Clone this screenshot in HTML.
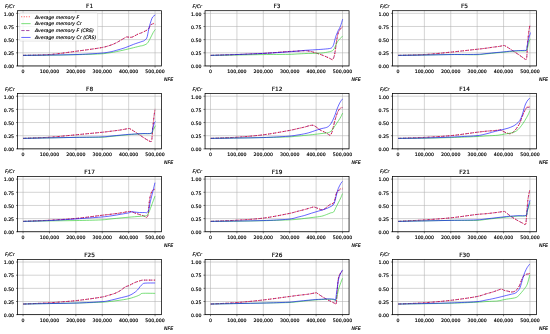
<!DOCTYPE html>
<html><head><meta charset="utf-8"><style>html,body{margin:0;padding:0;background:#fff;}svg{display:block;}</style></head><body>
<svg width="550" height="334" viewBox="0 0 550 334">
<rect width="550" height="334" fill="#fff"/>
<g stroke="#b0b0b0" stroke-width="0.55"><line x1="23.06" y1="10.7" x2="23.06" y2="65.95"/><line x1="49.46" y1="10.7" x2="49.46" y2="65.95"/><line x1="75.86" y1="10.7" x2="75.86" y2="65.95"/><line x1="102.26" y1="10.7" x2="102.26" y2="65.95"/><line x1="128.66" y1="10.7" x2="128.66" y2="65.95"/><line x1="155.05" y1="10.7" x2="155.05" y2="65.95"/><line x1="17.6" y1="65.95" x2="161.6" y2="65.95"/><line x1="17.6" y1="52.8" x2="161.6" y2="52.8"/><line x1="17.6" y1="39.64" x2="161.6" y2="39.64"/><line x1="17.6" y1="26.49" x2="161.6" y2="26.49"/><line x1="17.6" y1="13.33" x2="161.6" y2="13.33"/></g>
<path d="M23.06 55.37C27.5 55.23 40.92 55.23 49.73 54.55C58.54 53.87 67.54 52.39 75.92 51.28C84.3 50.16 94.31 48.86 100 47.87C105.69 46.89 107.26 46.25 110.06 45.36C112.85 44.47 114.25 43.8 116.76 42.51C119.27 41.23 123.46 38.57 125.14 37.65C126.81 36.73 125.84 37.04 126.81 36.98C127.79 36.93 129.89 37.4 131 37.32C132.12 37.23 132.26 37.07 133.52 36.48C134.77 35.89 137.34 34.36 138.55 33.8C139.75 33.24 139.8 33.49 140.72 33.13C141.65 32.76 142.99 32.15 144.08 31.62C145.17 31.09 146.45 30.5 147.26 29.94C148.07 29.38 148.49 28.88 148.94 28.27C149.38 27.65 149.49 26.93 149.94 26.26C150.39 25.59 151 24.64 151.62 24.25C152.23 23.85 153.01 23.91 153.63 23.91C154.24 23.91 155.02 24.19 155.3 24.25" fill="none" stroke="#800080" stroke-width="0.7" stroke-dasharray="3.3 1.5" stroke-linejoin="round"/>
<path d="M23.06 55.37C27.5 55.23 40.92 55.23 49.73 54.55C58.54 53.87 67.54 52.39 75.92 51.28C84.3 50.16 94.31 48.86 100 47.87C105.69 46.89 107.26 46.25 110.06 45.36C112.85 44.47 114.25 43.8 116.76 42.51C119.27 41.23 123.46 38.57 125.14 37.65C126.81 36.73 125.84 37.04 126.81 36.98C127.79 36.93 129.89 37.4 131 37.32C132.12 37.23 132.26 37.07 133.52 36.48C134.77 35.89 137.34 34.36 138.55 33.8C139.75 33.24 139.8 33.49 140.72 33.13C141.65 32.76 142.99 32.15 144.08 31.62C145.17 31.09 146.45 30.5 147.26 29.94C148.07 29.38 148.49 28.88 148.94 28.27C149.38 27.65 149.49 26.95 149.94 26.26C150.39 25.56 151 24.55 151.62 24.08C152.23 23.6 153.01 23.46 153.63 23.41C154.24 23.35 155.02 23.69 155.3 23.74" fill="none" stroke="#ff0000" stroke-width="0.8" stroke-dasharray="0.9 1.6" stroke-linejoin="round"/>
<path d="M23.06 55.37C27.5 55.34 40.92 55.31 49.73 55.2C58.54 55.1 67.54 54.93 75.92 54.71C84.3 54.5 94.31 54.24 100 53.91C105.69 53.58 107.26 53.13 110.06 52.74C112.85 52.34 114.25 52.06 116.76 51.56C119.27 51.06 122.35 50.36 125.14 49.72C127.93 49.08 131 48.32 133.52 47.71C136.03 47.09 138.66 46.39 140.22 46.03C141.79 45.67 141.73 45.98 142.9 45.53C144.08 45.08 146 44.61 147.26 43.35C148.52 42.09 149.47 39.77 150.44 37.99C151.42 36.2 152.32 34.05 153.13 32.62C153.94 31.2 154.94 29.97 155.3 29.44" fill="none" stroke="#32cd32" stroke-width="0.65" stroke-linejoin="round"/>
<path d="M23.06 55.37C27.5 55.31 40.92 55.18 49.73 55.04C58.54 54.9 67.54 54.85 75.92 54.55C84.3 54.25 94.31 53.68 100 53.24C105.69 52.8 107.26 52.4 110.06 51.9C112.85 51.39 114.25 50.92 116.76 50.22C119.27 49.52 122.35 48.68 125.14 47.71C127.93 46.73 130.72 45.39 133.52 44.36C136.31 43.32 140.14 42.12 141.9 41.51C143.66 40.89 143.27 41.26 144.08 40.67C144.89 40.08 146.06 39.5 146.76 37.99C147.46 36.48 147.82 33.57 148.27 31.62C148.71 29.66 148.96 28.07 149.44 26.26C149.91 24.44 150.58 22.26 151.11 20.73C151.65 19.19 151.92 18.02 152.62 17.04C153.32 16.06 154.86 15.22 155.3 14.86" fill="none" stroke="#0000ff" stroke-width="0.6" stroke-linejoin="round"/>
<rect x="17.6" y="10.7" width="144" height="55.25" fill="none" stroke="#000" stroke-width="0.75"/>
<path d="M23.06 65.95v1.6M49.46 65.95v1.6M75.86 65.95v1.6M102.26 65.95v1.6M128.66 65.95v1.6M155.05 65.95v1.6M17.6 65.95h-1.6M17.6 52.8h-1.6M17.6 39.64h-1.6M17.6 26.49h-1.6M17.6 13.33h-1.6" stroke="#000" stroke-width="0.5" fill="none"/>
<g font-family="DejaVu Sans, sans-serif" font-size="4.7" fill="#000" stroke="#000" stroke-width="0.15"><text x="23.06" y="72.95" text-anchor="middle">0</text><text x="49.46" y="72.95" text-anchor="middle">100,000</text><text x="75.86" y="72.95" text-anchor="middle">200,000</text><text x="102.26" y="72.95" text-anchor="middle">300,000</text><text x="128.66" y="72.95" text-anchor="middle">400,000</text><text x="155.05" y="72.95" text-anchor="middle">500,000</text><text x="14.1" y="68.25" text-anchor="end">0.00</text><text x="14.1" y="55.1" text-anchor="end">0.25</text><text x="14.1" y="41.94" text-anchor="end">0.50</text><text x="14.1" y="28.79" text-anchor="end">0.75</text><text x="14.1" y="15.63" text-anchor="end">1.00</text></g>
<text x="89.6" y="7.9" text-anchor="middle" font-family="DejaVu Sans, sans-serif" font-size="5.8" stroke="#000" stroke-width="0.15">F1</text>
<text x="5.1" y="7.6" font-family="DejaVu Sans, sans-serif" font-style="italic" font-size="4.7" stroke="#000" stroke-width="0.15">F/Cr</text>
<text x="164" y="81.25" font-family="DejaVu Sans, sans-serif" font-style="italic" font-size="4.7" stroke="#000" stroke-width="0.15">NFE</text>
<rect x="19.6" y="13.0" width="78" height="28.1" rx="0.9" fill="#fff" fill-opacity="0.8" stroke="#cccccc" stroke-width="0.45"/>
<line x1="21.3" y1="16.75" x2="30.6" y2="16.75" stroke="#ff0000" stroke-width="0.8" stroke-dasharray="0.9 1.6"/>
<text x="34.9" y="18.5" font-family="DejaVu Sans, sans-serif" font-style="italic" font-size="4.65" stroke="#000" stroke-width="0.15">Average memory F</text>
<line x1="21.3" y1="23.65" x2="30.6" y2="23.65" stroke="#32cd32" stroke-width="0.65"/>
<text x="34.9" y="25.4" font-family="DejaVu Sans, sans-serif" font-style="italic" font-size="4.65" stroke="#000" stroke-width="0.15">Average memory Cr</text>
<line x1="21.3" y1="30.55" x2="30.6" y2="30.55" stroke="#800080" stroke-width="0.7" stroke-dasharray="3.3 1.5"/>
<text x="34.9" y="32.3" font-family="DejaVu Sans, sans-serif" font-style="italic" font-size="4.65" stroke="#000" stroke-width="0.15">Average memory F (CRS)</text>
<line x1="21.3" y1="37.45" x2="30.6" y2="37.45" stroke="#0000ff" stroke-width="0.6"/>
<text x="34.9" y="39.2" font-family="DejaVu Sans, sans-serif" font-style="italic" font-size="4.65" stroke="#000" stroke-width="0.15">Average memory Cr (CRS)</text>
<g stroke="#b0b0b0" stroke-width="0.55"><line x1="210.51" y1="10.7" x2="210.51" y2="65.95"/><line x1="236.91" y1="10.7" x2="236.91" y2="65.95"/><line x1="263.31" y1="10.7" x2="263.31" y2="65.95"/><line x1="289.71" y1="10.7" x2="289.71" y2="65.95"/><line x1="316.11" y1="10.7" x2="316.11" y2="65.95"/><line x1="342.5" y1="10.7" x2="342.5" y2="65.95"/><line x1="205.05" y1="65.95" x2="349.05" y2="65.95"/><line x1="205.05" y1="52.8" x2="349.05" y2="52.8"/><line x1="205.05" y1="39.64" x2="349.05" y2="39.64"/><line x1="205.05" y1="26.49" x2="349.05" y2="26.49"/><line x1="205.05" y1="13.33" x2="349.05" y2="13.33"/></g>
<path d="M210.73 55.37C215.09 55.23 228.13 54.88 236.91 54.55C245.7 54.22 254.91 53.9 263.43 53.4C271.94 52.91 282.23 51.95 288 51.56C293.77 51.17 295.26 51.2 298.06 51.06C300.85 50.92 302.78 50.7 304.76 50.72C306.74 50.75 308.14 50.86 309.95 51.23C311.77 51.59 313.84 52.34 315.65 52.9C317.47 53.46 319.09 53.94 320.85 54.58C322.61 55.22 324.59 56.06 326.21 56.76C327.83 57.46 329.51 58.29 330.57 58.77C331.63 59.24 331.96 60.08 332.58 59.61C333.19 59.13 333.78 57.6 334.25 55.92C334.73 54.24 335.06 51.87 335.43 49.55C335.79 47.23 336.13 44.13 336.43 42.01C336.74 39.89 336.96 38.35 337.27 36.81C337.58 35.28 337.83 33.99 338.28 32.79C338.72 31.59 339.31 30.53 339.95 29.61C340.59 28.69 341.63 27.62 342.13 27.26C342.63 26.9 342.83 27.4 342.97 27.43" fill="none" stroke="#800080" stroke-width="0.7" stroke-dasharray="3.3 1.5" stroke-linejoin="round"/>
<path d="M210.73 55.37C215.09 55.23 228.13 54.88 236.91 54.55C245.7 54.22 254.91 53.9 263.43 53.4C271.94 52.91 282.23 51.95 288 51.56C293.77 51.17 295.26 51.2 298.06 51.06C300.85 50.92 302.78 50.7 304.76 50.72C306.74 50.75 308.14 50.86 309.95 51.23C311.77 51.59 313.84 52.34 315.65 52.9C317.47 53.46 319.09 53.94 320.85 54.58C322.61 55.22 324.59 56.06 326.21 56.76C327.83 57.46 329.51 58.29 330.57 58.77C331.63 59.24 331.96 60.08 332.58 59.61C333.19 59.13 333.78 57.6 334.25 55.92C334.73 54.24 335.06 51.87 335.43 49.55C335.79 47.23 336.13 44.13 336.43 42.01C336.74 39.89 336.96 38.35 337.27 36.81C337.58 35.28 337.83 34.02 338.28 32.79C338.72 31.56 339.31 30.42 339.95 29.44C340.59 28.46 341.63 27.37 342.13 26.93C342.63 26.48 342.83 26.79 342.97 26.76" fill="none" stroke="#ff0000" stroke-width="0.8" stroke-dasharray="0.9 1.6" stroke-linejoin="round"/>
<path d="M210.73 55.37C215.09 55.31 228.13 55.18 236.91 55.04C245.7 54.9 254.91 54.65 263.43 54.55C271.94 54.44 282.23 54.52 288 54.41C293.77 54.3 295.26 54.05 298.06 53.91C300.85 53.77 302.78 53.66 304.76 53.57C306.74 53.49 307.27 53.49 309.95 53.41C312.64 53.32 317.61 53.35 320.85 53.07C324.09 52.79 327.33 52.23 329.39 51.73C331.46 51.23 332.24 51 333.25 50.05C334.25 49.1 334.81 47.26 335.43 46.03C336.04 44.8 336.46 43.57 336.94 42.68C337.41 41.79 337.83 41.26 338.28 40.67C338.72 40.08 338.89 39.94 339.62 39.16C340.34 38.38 342.13 36.51 342.63 35.98" fill="none" stroke="#32cd32" stroke-width="0.65" stroke-linejoin="round"/>
<path d="M210.73 55.37C215.09 55.23 228.13 54.88 236.91 54.55C245.7 54.22 254.91 53.85 263.43 53.4C271.94 52.96 282.23 52.29 288 51.9C293.77 51.51 295.26 51.31 298.06 51.06C300.85 50.81 302.78 50.56 304.76 50.39C306.74 50.22 307.27 50.22 309.95 50.05C312.64 49.89 317.61 49.63 320.85 49.38C324.09 49.13 327.52 48.88 329.39 48.55C331.27 48.21 331.35 48.1 332.08 47.37C332.8 46.65 333.19 45.81 333.75 44.19C334.31 42.57 334.95 39.3 335.43 37.65C335.9 36 336.13 35.5 336.6 34.3C337.08 33.1 337.63 31.79 338.28 30.45C338.92 29.11 339.73 28.13 340.46 26.26C341.18 24.38 342.27 20.39 342.63 19.22" fill="none" stroke="#0000ff" stroke-width="0.6" stroke-linejoin="round"/>
<rect x="205.05" y="10.7" width="144" height="55.25" fill="none" stroke="#000" stroke-width="0.75"/>
<path d="M210.51 65.95v1.6M236.91 65.95v1.6M263.31 65.95v1.6M289.71 65.95v1.6M316.11 65.95v1.6M342.5 65.95v1.6M205.05 65.95h-1.6M205.05 52.8h-1.6M205.05 39.64h-1.6M205.05 26.49h-1.6M205.05 13.33h-1.6" stroke="#000" stroke-width="0.5" fill="none"/>
<g font-family="DejaVu Sans, sans-serif" font-size="4.7" fill="#000" stroke="#000" stroke-width="0.15"><text x="210.51" y="72.95" text-anchor="middle">0</text><text x="236.91" y="72.95" text-anchor="middle">100,000</text><text x="263.31" y="72.95" text-anchor="middle">200,000</text><text x="289.71" y="72.95" text-anchor="middle">300,000</text><text x="316.11" y="72.95" text-anchor="middle">400,000</text><text x="342.5" y="72.95" text-anchor="middle">500,000</text><text x="201.55" y="68.25" text-anchor="end">0.00</text><text x="201.55" y="55.1" text-anchor="end">0.25</text><text x="201.55" y="41.94" text-anchor="end">0.50</text><text x="201.55" y="28.79" text-anchor="end">0.75</text><text x="201.55" y="15.63" text-anchor="end">1.00</text></g>
<text x="277.05" y="7.9" text-anchor="middle" font-family="DejaVu Sans, sans-serif" font-size="5.8" stroke="#000" stroke-width="0.15">F3</text>
<text x="192.55" y="7.6" font-family="DejaVu Sans, sans-serif" font-style="italic" font-size="4.7" stroke="#000" stroke-width="0.15">F/Cr</text>
<text x="351.45" y="81.25" font-family="DejaVu Sans, sans-serif" font-style="italic" font-size="4.7" stroke="#000" stroke-width="0.15">NFE</text>
<g stroke="#b0b0b0" stroke-width="0.55"><line x1="397.96" y1="10.7" x2="397.96" y2="65.95"/><line x1="424.36" y1="10.7" x2="424.36" y2="65.95"/><line x1="450.76" y1="10.7" x2="450.76" y2="65.95"/><line x1="477.16" y1="10.7" x2="477.16" y2="65.95"/><line x1="503.56" y1="10.7" x2="503.56" y2="65.95"/><line x1="529.95" y1="10.7" x2="529.95" y2="65.95"/><line x1="392.5" y1="65.95" x2="536.5" y2="65.95"/><line x1="392.5" y1="52.8" x2="536.5" y2="52.8"/><line x1="392.5" y1="39.64" x2="536.5" y2="39.64"/><line x1="392.5" y1="26.49" x2="536.5" y2="26.49"/><line x1="392.5" y1="13.33" x2="536.5" y2="13.33"/></g>
<path d="M398.22 55.37C402.64 55.23 415.9 55.1 424.73 54.55C433.57 54 442.7 52.96 451.25 52.09C459.79 51.23 470.2 50.03 476 49.38C481.8 48.74 483.26 48.57 486.06 48.21C488.85 47.85 490.52 47.51 492.76 47.2C494.99 46.9 497.65 46.65 499.46 46.37C501.28 46.09 502.67 45.58 503.65 45.53C504.63 45.47 504.35 45.53 505.33 46.03C506.31 46.53 507.98 47.57 509.52 48.55C511.05 49.52 512.87 50.78 514.55 51.9C516.22 53.01 518.04 54.19 519.57 55.25C521.11 56.31 522.7 57.57 523.76 58.27C524.82 58.96 525.44 59.66 525.94 59.44C526.44 59.22 526.5 59.58 526.78 56.92C527.06 54.27 527.28 47.71 527.62 43.52C527.95 39.33 528.4 34.8 528.79 31.79C529.18 28.77 529.77 26.48 529.96 25.42" fill="none" stroke="#800080" stroke-width="0.7" stroke-dasharray="3.3 1.5" stroke-linejoin="round"/>
<path d="M398.22 55.37C402.64 55.23 415.9 55.1 424.73 54.55C433.57 54 442.7 52.96 451.25 52.09C459.79 51.23 470.2 50.03 476 49.38C481.8 48.74 483.26 48.57 486.06 48.21C488.85 47.85 490.52 47.51 492.76 47.2C494.99 46.9 497.65 46.65 499.46 46.37C501.28 46.09 502.67 45.58 503.65 45.53C504.63 45.47 504.35 45.53 505.33 46.03C506.31 46.53 507.98 47.57 509.52 48.55C511.05 49.52 512.87 50.78 514.55 51.9C516.22 53.01 518.04 54.19 519.57 55.25C521.11 56.31 522.7 57.57 523.76 58.27C524.82 58.96 525.44 59.66 525.94 59.44C526.44 59.22 526.5 59.58 526.78 56.92C527.06 54.27 527.28 47.71 527.62 43.52C527.95 39.33 528.4 34.91 528.79 31.79C529.18 28.66 529.77 25.92 529.96 24.75" fill="none" stroke="#ff0000" stroke-width="0.8" stroke-dasharray="0.9 1.6" stroke-linejoin="round"/>
<path d="M398.22 55.37C402.64 55.31 415.9 55.18 424.73 55.04C433.57 54.9 442.7 54.6 451.25 54.55C459.79 54.5 470.2 54.85 476 54.75C481.8 54.64 482.7 54.22 486.06 53.91C489.41 53.6 493.18 53.18 496.11 52.9C499.04 52.62 501.42 52.46 503.65 52.23C505.89 52.01 507.14 51.79 509.52 51.56C511.89 51.34 515.1 51.06 517.9 50.89C520.69 50.72 524.6 51.37 526.28 50.56C527.95 49.75 527.39 47.76 527.95 46.03C528.51 44.3 529.21 41.28 529.63 40.17C530.05 39.05 530.33 39.47 530.47 39.33" fill="none" stroke="#32cd32" stroke-width="0.65" stroke-linejoin="round"/>
<path d="M398.22 55.37C402.64 55.31 415.9 55.18 424.73 55.04C433.57 54.9 442.7 54.65 451.25 54.55C459.79 54.44 470.2 54.57 476 54.41C481.8 54.25 482.7 53.88 486.06 53.57C489.41 53.27 493.18 52.85 496.11 52.57C499.04 52.29 501.42 52.12 503.65 51.9C505.89 51.67 507.42 51.42 509.52 51.23C511.61 51.03 513.71 50.86 516.22 50.72C518.74 50.58 522.92 50.47 524.6 50.39C526.28 50.31 525.86 50.95 526.28 50.22C526.7 49.5 526.7 47.99 527.11 46.03C527.53 44.08 528.23 40.72 528.79 38.49C529.35 36.26 530.19 33.6 530.47 32.62" fill="none" stroke="#0000ff" stroke-width="0.6" stroke-linejoin="round"/>
<rect x="392.5" y="10.7" width="144" height="55.25" fill="none" stroke="#000" stroke-width="0.75"/>
<path d="M397.96 65.95v1.6M424.36 65.95v1.6M450.76 65.95v1.6M477.16 65.95v1.6M503.56 65.95v1.6M529.95 65.95v1.6M392.5 65.95h-1.6M392.5 52.8h-1.6M392.5 39.64h-1.6M392.5 26.49h-1.6M392.5 13.33h-1.6" stroke="#000" stroke-width="0.5" fill="none"/>
<g font-family="DejaVu Sans, sans-serif" font-size="4.7" fill="#000" stroke="#000" stroke-width="0.15"><text x="397.96" y="72.95" text-anchor="middle">0</text><text x="424.36" y="72.95" text-anchor="middle">100,000</text><text x="450.76" y="72.95" text-anchor="middle">200,000</text><text x="477.16" y="72.95" text-anchor="middle">300,000</text><text x="503.56" y="72.95" text-anchor="middle">400,000</text><text x="529.95" y="72.95" text-anchor="middle">500,000</text><text x="389" y="68.25" text-anchor="end">0.00</text><text x="389" y="55.1" text-anchor="end">0.25</text><text x="389" y="41.94" text-anchor="end">0.50</text><text x="389" y="28.79" text-anchor="end">0.75</text><text x="389" y="15.63" text-anchor="end">1.00</text></g>
<text x="464.5" y="7.9" text-anchor="middle" font-family="DejaVu Sans, sans-serif" font-size="5.8" stroke="#000" stroke-width="0.15">F5</text>
<text x="380" y="7.6" font-family="DejaVu Sans, sans-serif" font-style="italic" font-size="4.7" stroke="#000" stroke-width="0.15">F/Cr</text>
<text x="538.9" y="81.25" font-family="DejaVu Sans, sans-serif" font-style="italic" font-size="4.7" stroke="#000" stroke-width="0.15">NFE</text>
<g stroke="#b0b0b0" stroke-width="0.55"><line x1="23.06" y1="93.6" x2="23.06" y2="148.85"/><line x1="49.46" y1="93.6" x2="49.46" y2="148.85"/><line x1="75.86" y1="93.6" x2="75.86" y2="148.85"/><line x1="102.26" y1="93.6" x2="102.26" y2="148.85"/><line x1="128.66" y1="93.6" x2="128.66" y2="148.85"/><line x1="155.05" y1="93.6" x2="155.05" y2="148.85"/><line x1="17.6" y1="148.85" x2="161.6" y2="148.85"/><line x1="17.6" y1="135.7" x2="161.6" y2="135.7"/><line x1="17.6" y1="122.54" x2="161.6" y2="122.54"/><line x1="17.6" y1="109.39" x2="161.6" y2="109.39"/><line x1="17.6" y1="96.23" x2="161.6" y2="96.23"/></g>
<path d="M23.22 138.37C27.64 138.18 40.9 137.82 49.73 137.22C58.57 136.62 67.7 135.57 76.25 134.77C84.79 133.96 95.2 132.98 101 132.38C106.8 131.79 107.7 131.63 111.06 131.21C114.41 130.79 118.18 130.32 121.11 129.87C124.04 129.42 127.12 128.67 128.65 128.53C130.19 128.39 129.35 128.53 130.33 129.03C131.31 129.53 132.98 130.57 134.52 131.55C136.05 132.52 137.87 133.78 139.55 134.9C141.22 136.01 143.04 137.27 144.57 138.25C146.11 139.23 147.7 140.2 148.76 140.76C149.82 141.32 150.44 141.74 150.94 141.6C151.44 141.46 151.5 141.88 151.78 139.92C152.06 137.97 152.28 133.5 152.62 129.87C152.95 126.24 153.4 121.49 153.79 118.14C154.18 114.79 154.77 111.16 154.96 109.76" fill="none" stroke="#800080" stroke-width="0.7" stroke-dasharray="3.3 1.5" stroke-linejoin="round"/>
<path d="M23.22 138.37C27.64 138.18 40.9 137.82 49.73 137.22C58.57 136.62 67.7 135.57 76.25 134.77C84.79 133.96 95.2 132.98 101 132.38C106.8 131.79 107.7 131.63 111.06 131.21C114.41 130.79 118.18 130.32 121.11 129.87C124.04 129.42 127.12 128.67 128.65 128.53C130.19 128.39 129.35 128.53 130.33 129.03C131.31 129.53 132.98 130.57 134.52 131.55C136.05 132.52 137.87 133.78 139.55 134.9C141.22 136.01 143.04 137.27 144.57 138.25C146.11 139.23 147.7 140.2 148.76 140.76C149.82 141.32 150.44 141.74 150.94 141.6C151.44 141.46 151.5 141.88 151.78 139.92C152.06 137.97 152.28 133.5 152.62 129.87C152.95 126.24 153.4 121.63 153.79 118.14C154.18 114.65 154.77 110.46 154.96 108.92" fill="none" stroke="#ff0000" stroke-width="0.8" stroke-dasharray="0.9 1.6" stroke-linejoin="round"/>
<path d="M23.22 138.37C27.64 138.29 40.9 138.04 49.73 137.88C58.57 137.71 67.7 137.49 76.25 137.39C84.79 137.28 95.2 137.41 101 137.24C106.8 137.08 107.7 136.71 111.06 136.41C114.41 136.1 118.18 135.68 121.11 135.4C124.04 135.12 126.42 134.93 128.65 134.73C130.89 134.53 132.14 134.39 134.52 134.23C136.89 134.06 140.1 133.86 142.9 133.72C145.69 133.58 149.6 133.89 151.28 133.39C152.95 132.89 152.25 131.99 152.95 130.71C153.65 129.42 155.05 126.52 155.47 125.68" fill="none" stroke="#32cd32" stroke-width="0.65" stroke-linejoin="round"/>
<path d="M23.22 138.37C27.64 138.29 40.9 138.04 49.73 137.88C58.57 137.71 67.7 137.55 76.25 137.39C84.79 137.22 95.2 137.13 101 136.91C106.8 136.69 107.7 136.38 111.06 136.07C114.41 135.76 118.18 135.34 121.11 135.06C124.04 134.79 126.42 134.56 128.65 134.39C130.89 134.23 132.14 134.2 134.52 134.06C136.89 133.92 140.1 133.7 142.9 133.56C145.69 133.42 149.66 133.98 151.28 133.22C152.9 132.47 152.11 130.71 152.62 129.03C153.12 127.36 153.82 124.42 154.29 123.17C154.77 121.91 155.27 121.77 155.47 121.49" fill="none" stroke="#0000ff" stroke-width="0.6" stroke-linejoin="round"/>
<rect x="17.6" y="93.6" width="144" height="55.25" fill="none" stroke="#000" stroke-width="0.75"/>
<path d="M23.06 148.85v1.6M49.46 148.85v1.6M75.86 148.85v1.6M102.26 148.85v1.6M128.66 148.85v1.6M155.05 148.85v1.6M17.6 148.85h-1.6M17.6 135.7h-1.6M17.6 122.54h-1.6M17.6 109.39h-1.6M17.6 96.23h-1.6" stroke="#000" stroke-width="0.5" fill="none"/>
<g font-family="DejaVu Sans, sans-serif" font-size="4.7" fill="#000" stroke="#000" stroke-width="0.15"><text x="23.06" y="155.85" text-anchor="middle">0</text><text x="49.46" y="155.85" text-anchor="middle">100,000</text><text x="75.86" y="155.85" text-anchor="middle">200,000</text><text x="102.26" y="155.85" text-anchor="middle">300,000</text><text x="128.66" y="155.85" text-anchor="middle">400,000</text><text x="155.05" y="155.85" text-anchor="middle">500,000</text><text x="14.1" y="151.15" text-anchor="end">0.00</text><text x="14.1" y="138" text-anchor="end">0.25</text><text x="14.1" y="124.84" text-anchor="end">0.50</text><text x="14.1" y="111.69" text-anchor="end">0.75</text><text x="14.1" y="98.53" text-anchor="end">1.00</text></g>
<text x="89.6" y="90.8" text-anchor="middle" font-family="DejaVu Sans, sans-serif" font-size="5.8" stroke="#000" stroke-width="0.15">F8</text>
<text x="5.1" y="90.5" font-family="DejaVu Sans, sans-serif" font-style="italic" font-size="4.7" stroke="#000" stroke-width="0.15">F/Cr</text>
<text x="164" y="164.15" font-family="DejaVu Sans, sans-serif" font-style="italic" font-size="4.7" stroke="#000" stroke-width="0.15">NFE</text>
<g stroke="#b0b0b0" stroke-width="0.55"><line x1="210.51" y1="93.6" x2="210.51" y2="148.85"/><line x1="236.91" y1="93.6" x2="236.91" y2="148.85"/><line x1="263.31" y1="93.6" x2="263.31" y2="148.85"/><line x1="289.71" y1="93.6" x2="289.71" y2="148.85"/><line x1="316.11" y1="93.6" x2="316.11" y2="148.85"/><line x1="342.5" y1="93.6" x2="342.5" y2="148.85"/><line x1="205.05" y1="148.85" x2="349.05" y2="148.85"/><line x1="205.05" y1="135.7" x2="349.05" y2="135.7"/><line x1="205.05" y1="122.54" x2="349.05" y2="122.54"/><line x1="205.05" y1="109.39" x2="349.05" y2="109.39"/><line x1="205.05" y1="96.23" x2="349.05" y2="96.23"/></g>
<path d="M210.73 138.37C215.09 138.18 228.13 137.82 236.91 137.22C245.7 136.62 254.91 135.85 263.43 134.77C271.94 133.68 282.23 131.75 288 130.71C293.77 129.67 295.26 129.14 298.06 128.53C300.85 127.91 302.78 127.52 304.76 127.02C306.74 126.52 308.53 125.79 309.95 125.51C311.38 125.23 312.19 125.04 313.31 125.34C314.42 125.65 315.54 126.6 316.66 127.36C317.77 128.11 318.33 128.89 320.01 129.87C321.69 130.85 325.04 132.33 326.71 133.22C328.39 134.12 329.23 135.32 330.06 135.23C330.9 135.15 331.18 134.17 331.74 132.72C332.3 131.27 332.86 128.67 333.42 126.52C333.98 124.37 334.39 122.19 335.09 119.81C335.79 117.44 336.77 114.17 337.61 112.27C338.44 110.37 339.28 109.2 340.12 108.42C340.96 107.64 342.21 107.72 342.63 107.58" fill="none" stroke="#800080" stroke-width="0.7" stroke-dasharray="3.3 1.5" stroke-linejoin="round"/>
<path d="M210.73 138.37C215.09 138.18 228.13 137.82 236.91 137.22C245.7 136.62 254.91 135.85 263.43 134.77C271.94 133.68 282.23 131.75 288 130.71C293.77 129.67 295.26 129.14 298.06 128.53C300.85 127.91 302.78 127.52 304.76 127.02C306.74 126.52 308.53 125.79 309.95 125.51C311.38 125.23 312.19 125.04 313.31 125.34C314.42 125.65 315.54 126.6 316.66 127.36C317.77 128.11 318.33 128.89 320.01 129.87C321.69 130.85 325.04 132.33 326.71 133.22C328.39 134.12 329.23 135.32 330.06 135.23C330.9 135.15 331.18 134.17 331.74 132.72C332.3 131.27 332.86 128.67 333.42 126.52C333.98 124.37 334.39 122.19 335.09 119.81C335.79 117.44 336.77 114.17 337.61 112.27C338.44 110.37 339.28 109.31 340.12 108.42C340.96 107.52 342.21 107.16 342.63 106.91" fill="none" stroke="#ff0000" stroke-width="0.8" stroke-dasharray="0.9 1.6" stroke-linejoin="round"/>
<path d="M210.73 138.37C215.09 138.31 228.13 138.18 236.91 138.04C245.7 137.9 254.91 137.74 263.43 137.55C271.94 137.36 282.23 137.15 288 136.91C293.77 136.66 295.26 136.32 298.06 136.07C300.85 135.82 302.78 135.6 304.76 135.4C306.74 135.2 307.41 135.18 309.95 134.9C312.5 134.62 317.22 134.06 320.01 133.72C322.8 133.39 325.04 133.19 326.71 132.89C328.39 132.58 328.95 132.66 330.06 131.88C331.18 131.1 332.3 129.65 333.42 128.19C334.53 126.74 335.65 124.84 336.77 123.17C337.89 121.49 339.14 119.81 340.12 118.14C341.1 116.46 342.21 113.95 342.63 113.11" fill="none" stroke="#32cd32" stroke-width="0.65" stroke-linejoin="round"/>
<path d="M210.73 138.37C215.09 138.31 228.13 138.18 236.91 138.04C245.7 137.9 254.91 137.85 263.43 137.55C271.94 137.25 282.23 136.68 288 136.24C293.77 135.8 295.26 135.32 298.06 134.9C300.85 134.48 302.78 134.14 304.76 133.72C306.74 133.31 307.41 133.17 309.95 132.38C312.5 131.6 317.22 129.87 320.01 129.03C322.8 128.19 325.04 128.05 326.71 127.36C328.39 126.66 329.09 125.96 330.06 124.84C331.04 123.72 331.74 122.33 332.58 120.65C333.42 118.98 334.39 116.6 335.09 114.79C335.79 112.97 336.07 111.57 336.77 109.76C337.47 107.94 338.44 105.57 339.28 103.89C340.12 102.22 341.24 100.49 341.8 99.7C342.35 98.92 342.49 99.28 342.63 99.2" fill="none" stroke="#0000ff" stroke-width="0.6" stroke-linejoin="round"/>
<rect x="205.05" y="93.6" width="144" height="55.25" fill="none" stroke="#000" stroke-width="0.75"/>
<path d="M210.51 148.85v1.6M236.91 148.85v1.6M263.31 148.85v1.6M289.71 148.85v1.6M316.11 148.85v1.6M342.5 148.85v1.6M205.05 148.85h-1.6M205.05 135.7h-1.6M205.05 122.54h-1.6M205.05 109.39h-1.6M205.05 96.23h-1.6" stroke="#000" stroke-width="0.5" fill="none"/>
<g font-family="DejaVu Sans, sans-serif" font-size="4.7" fill="#000" stroke="#000" stroke-width="0.15"><text x="210.51" y="155.85" text-anchor="middle">0</text><text x="236.91" y="155.85" text-anchor="middle">100,000</text><text x="263.31" y="155.85" text-anchor="middle">200,000</text><text x="289.71" y="155.85" text-anchor="middle">300,000</text><text x="316.11" y="155.85" text-anchor="middle">400,000</text><text x="342.5" y="155.85" text-anchor="middle">500,000</text><text x="201.55" y="151.15" text-anchor="end">0.00</text><text x="201.55" y="138" text-anchor="end">0.25</text><text x="201.55" y="124.84" text-anchor="end">0.50</text><text x="201.55" y="111.69" text-anchor="end">0.75</text><text x="201.55" y="98.53" text-anchor="end">1.00</text></g>
<text x="277.05" y="90.8" text-anchor="middle" font-family="DejaVu Sans, sans-serif" font-size="5.8" stroke="#000" stroke-width="0.15">F12</text>
<text x="192.55" y="90.5" font-family="DejaVu Sans, sans-serif" font-style="italic" font-size="4.7" stroke="#000" stroke-width="0.15">F/Cr</text>
<text x="351.45" y="164.15" font-family="DejaVu Sans, sans-serif" font-style="italic" font-size="4.7" stroke="#000" stroke-width="0.15">NFE</text>
<g stroke="#b0b0b0" stroke-width="0.55"><line x1="397.96" y1="93.6" x2="397.96" y2="148.85"/><line x1="424.36" y1="93.6" x2="424.36" y2="148.85"/><line x1="450.76" y1="93.6" x2="450.76" y2="148.85"/><line x1="477.16" y1="93.6" x2="477.16" y2="148.85"/><line x1="503.56" y1="93.6" x2="503.56" y2="148.85"/><line x1="529.95" y1="93.6" x2="529.95" y2="148.85"/><line x1="392.5" y1="148.85" x2="536.5" y2="148.85"/><line x1="392.5" y1="135.7" x2="536.5" y2="135.7"/><line x1="392.5" y1="122.54" x2="536.5" y2="122.54"/><line x1="392.5" y1="109.39" x2="536.5" y2="109.39"/><line x1="392.5" y1="96.23" x2="536.5" y2="96.23"/></g>
<path d="M398.22 138.37C402.64 138.2 415.9 137.85 424.73 137.39C433.57 136.92 442.7 136.42 451.25 135.59C459.79 134.75 470.2 133.11 476 132.38C481.8 131.65 483.26 131.49 486.06 131.21C488.85 130.93 490.78 130.87 492.76 130.71C494.74 130.54 496.67 130.34 497.95 130.2C499.24 130.06 499.63 129.7 500.47 129.87C501.31 130.04 502 130.71 502.98 131.21C503.96 131.71 505.22 132.47 506.33 132.89C507.45 133.31 508.71 133.72 509.69 133.72C510.66 133.72 511.36 133.39 512.2 132.89C513.04 132.38 513.87 131.63 514.71 130.71C515.55 129.79 516.39 128.61 517.23 127.36C518.06 126.1 518.9 124.98 519.74 123.17C520.58 121.35 521.42 118.56 522.25 116.46C523.09 114.37 524.07 111.99 524.77 110.6C525.47 109.2 525.89 108.61 526.44 108.08C527 107.55 527.56 107.52 528.12 107.41C528.68 107.3 529.52 107.41 529.8 107.41" fill="none" stroke="#800080" stroke-width="0.7" stroke-dasharray="3.3 1.5" stroke-linejoin="round"/>
<path d="M398.22 138.37C402.64 138.2 415.9 137.85 424.73 137.39C433.57 136.92 442.7 136.42 451.25 135.59C459.79 134.75 470.2 133.11 476 132.38C481.8 131.65 483.26 131.49 486.06 131.21C488.85 130.93 490.78 130.87 492.76 130.71C494.74 130.54 496.67 130.34 497.95 130.2C499.24 130.06 499.63 129.7 500.47 129.87C501.31 130.04 502 130.71 502.98 131.21C503.96 131.71 505.22 132.47 506.33 132.89C507.45 133.31 508.71 133.72 509.69 133.72C510.66 133.72 511.36 133.39 512.2 132.89C513.04 132.38 513.87 131.63 514.71 130.71C515.55 129.79 516.39 128.61 517.23 127.36C518.06 126.1 518.9 124.98 519.74 123.17C520.58 121.35 521.42 118.56 522.25 116.46C523.09 114.37 524.07 112.11 524.77 110.6C525.47 109.09 525.89 108.11 526.44 107.41C527 106.71 527.65 106.52 528.12 106.41C528.59 106.3 529.01 106.41 529.29 106.74C529.57 107.08 529.71 108.14 529.8 108.42" fill="none" stroke="#ff0000" stroke-width="0.8" stroke-dasharray="0.9 1.6" stroke-linejoin="round"/>
<path d="M398.22 138.37C402.64 138.34 415.9 138.34 424.73 138.2C433.57 138.07 442.7 137.82 451.25 137.55C459.79 137.28 470.2 136.85 476 136.57C481.8 136.3 483.26 136.07 486.06 135.9C488.85 135.74 490.78 135.68 492.76 135.57C494.74 135.46 495.97 135.48 497.95 135.23C499.94 134.98 502.7 134.39 504.66 134.06C506.61 133.72 508.01 133.58 509.69 133.22C511.36 132.86 513.32 132.5 514.71 131.88C516.11 131.27 516.95 130.57 518.06 129.53C519.18 128.5 520.3 127.16 521.42 125.68C522.53 124.2 523.65 122.47 524.77 120.65C525.89 118.84 527.28 116.46 528.12 114.79C528.96 113.11 529.52 111.3 529.8 110.6" fill="none" stroke="#32cd32" stroke-width="0.65" stroke-linejoin="round"/>
<path d="M398.22 138.37C402.64 138.31 415.9 138.26 424.73 138.04C433.57 137.82 442.7 137.44 451.25 137.06C459.79 136.67 470.2 136.26 476 135.74C481.8 135.21 483.26 134.51 486.06 133.89C488.85 133.28 490.78 132.58 492.76 132.05C494.74 131.52 496.25 131.13 497.95 130.71C499.66 130.29 501.31 129.95 502.98 129.53C504.66 129.12 506.33 128.75 508.01 128.19C509.69 127.63 511.64 126.88 513.04 126.18C514.43 125.48 515.27 124.93 516.39 124C517.51 123.08 518.76 122.19 519.74 120.65C520.72 119.12 521.56 116.74 522.25 114.79C522.95 112.83 523.37 110.74 523.93 108.92C524.49 107.11 524.91 105.43 525.61 103.89C526.3 102.36 527.42 100.63 528.12 99.7C528.82 98.78 529.52 98.59 529.8 98.36" fill="none" stroke="#0000ff" stroke-width="0.6" stroke-linejoin="round"/>
<rect x="392.5" y="93.6" width="144" height="55.25" fill="none" stroke="#000" stroke-width="0.75"/>
<path d="M397.96 148.85v1.6M424.36 148.85v1.6M450.76 148.85v1.6M477.16 148.85v1.6M503.56 148.85v1.6M529.95 148.85v1.6M392.5 148.85h-1.6M392.5 135.7h-1.6M392.5 122.54h-1.6M392.5 109.39h-1.6M392.5 96.23h-1.6" stroke="#000" stroke-width="0.5" fill="none"/>
<g font-family="DejaVu Sans, sans-serif" font-size="4.7" fill="#000" stroke="#000" stroke-width="0.15"><text x="397.96" y="155.85" text-anchor="middle">0</text><text x="424.36" y="155.85" text-anchor="middle">100,000</text><text x="450.76" y="155.85" text-anchor="middle">200,000</text><text x="477.16" y="155.85" text-anchor="middle">300,000</text><text x="503.56" y="155.85" text-anchor="middle">400,000</text><text x="529.95" y="155.85" text-anchor="middle">500,000</text><text x="389" y="151.15" text-anchor="end">0.00</text><text x="389" y="138" text-anchor="end">0.25</text><text x="389" y="124.84" text-anchor="end">0.50</text><text x="389" y="111.69" text-anchor="end">0.75</text><text x="389" y="98.53" text-anchor="end">1.00</text></g>
<text x="464.5" y="90.8" text-anchor="middle" font-family="DejaVu Sans, sans-serif" font-size="5.8" stroke="#000" stroke-width="0.15">F14</text>
<text x="380" y="90.5" font-family="DejaVu Sans, sans-serif" font-style="italic" font-size="4.7" stroke="#000" stroke-width="0.15">F/Cr</text>
<text x="538.9" y="164.15" font-family="DejaVu Sans, sans-serif" font-style="italic" font-size="4.7" stroke="#000" stroke-width="0.15">NFE</text>
<g stroke="#b0b0b0" stroke-width="0.55"><line x1="23.06" y1="176.5" x2="23.06" y2="231.75"/><line x1="49.46" y1="176.5" x2="49.46" y2="231.75"/><line x1="75.86" y1="176.5" x2="75.86" y2="231.75"/><line x1="102.26" y1="176.5" x2="102.26" y2="231.75"/><line x1="128.66" y1="176.5" x2="128.66" y2="231.75"/><line x1="155.05" y1="176.5" x2="155.05" y2="231.75"/><line x1="17.6" y1="231.75" x2="161.6" y2="231.75"/><line x1="17.6" y1="218.6" x2="161.6" y2="218.6"/><line x1="17.6" y1="205.44" x2="161.6" y2="205.44"/><line x1="17.6" y1="192.29" x2="161.6" y2="192.29"/><line x1="17.6" y1="179.13" x2="161.6" y2="179.13"/></g>
<path d="M23.22 221.37C27.64 221.18 40.9 220.71 49.73 220.22C58.57 219.73 67.7 219.23 76.25 218.42C84.79 217.62 95.2 216.09 101 215.38C106.8 214.68 107.7 214.63 111.06 214.21C114.41 213.79 118.18 213.32 121.11 212.87C124.04 212.42 126.98 211.72 128.65 211.53C130.33 211.33 130.19 211.47 131.17 211.7C132.14 211.92 133.12 212.39 134.52 212.87C135.91 213.34 138.01 214.04 139.55 214.55C141.08 215.05 142.67 215.47 143.74 215.89C144.8 216.31 145.36 216.86 145.91 217.06C146.47 217.25 146.7 217.62 147.09 217.06C147.48 216.5 147.84 216.64 148.26 213.71C148.68 210.77 149.1 202.95 149.6 199.46C150.1 195.97 150.72 194.3 151.28 192.76C151.84 191.22 152.39 190.86 152.95 190.25C153.51 189.63 154.35 189.27 154.63 189.07" fill="none" stroke="#800080" stroke-width="0.7" stroke-dasharray="3.3 1.5" stroke-linejoin="round"/>
<path d="M23.22 221.37C27.64 221.18 40.9 220.71 49.73 220.22C58.57 219.73 67.7 219.23 76.25 218.42C84.79 217.62 95.2 216.09 101 215.38C106.8 214.68 107.7 214.63 111.06 214.21C114.41 213.79 118.18 213.32 121.11 212.87C124.04 212.42 126.98 211.72 128.65 211.53C130.33 211.33 130.19 211.47 131.17 211.7C132.14 211.92 133.12 212.39 134.52 212.87C135.91 213.34 138.01 214.04 139.55 214.55C141.08 215.05 142.67 215.47 143.74 215.89C144.8 216.31 145.36 216.86 145.91 217.06C146.47 217.25 146.7 217.62 147.09 217.06C147.48 216.5 147.84 216.64 148.26 213.71C148.68 210.77 148.96 203.23 149.6 199.46C150.24 195.69 151.42 192.76 152.11 191.08C152.81 189.41 153.37 189.63 153.79 189.41C154.21 189.18 154.49 189.69 154.63 189.74" fill="none" stroke="#ff0000" stroke-width="0.8" stroke-dasharray="0.9 1.6" stroke-linejoin="round"/>
<path d="M23.22 221.37C27.64 221.29 40.9 221.01 49.73 220.88C58.57 220.74 67.7 220.71 76.25 220.55C84.79 220.39 95.2 220.18 101 219.91C106.8 219.63 107.7 219.24 111.06 218.9C114.41 218.57 118.18 218.18 121.11 217.9C124.04 217.62 126.42 217.42 128.65 217.23C130.89 217.03 132.42 216.89 134.52 216.72C136.61 216.56 139.27 216.39 141.22 216.22C143.18 216.05 145.08 216.14 146.25 215.72C147.42 215.3 147.42 215.3 148.26 213.71C149.1 212.12 150.16 209.1 151.28 206.17C152.39 203.23 154.35 197.79 154.96 196.11" fill="none" stroke="#32cd32" stroke-width="0.65" stroke-linejoin="round"/>
<path d="M23.22 221.37C27.64 221.23 40.9 220.96 49.73 220.55C58.57 220.14 67.7 219.5 76.25 218.91C84.79 218.33 95.2 217.56 101 217.06C106.8 216.55 107.7 216.36 111.06 215.89C114.41 215.41 118.18 214.71 121.11 214.21C124.04 213.71 126.84 213.29 128.65 212.87C130.47 212.45 131.03 211.84 132 211.7C132.98 211.56 133.26 211.89 134.52 212.03C135.77 212.17 137.87 212.45 139.55 212.53C141.22 212.62 143.32 212.53 144.57 212.53C145.83 212.53 146.39 213.04 147.09 212.53C147.79 212.03 148.2 211.42 148.76 209.52C149.32 207.62 149.74 204.21 150.44 201.14C151.14 198.07 152.2 194.16 152.95 191.08C153.71 188.01 154.63 184.1 154.96 182.7" fill="none" stroke="#0000ff" stroke-width="0.6" stroke-linejoin="round"/>
<rect x="17.6" y="176.5" width="144" height="55.25" fill="none" stroke="#000" stroke-width="0.75"/>
<path d="M23.06 231.75v1.6M49.46 231.75v1.6M75.86 231.75v1.6M102.26 231.75v1.6M128.66 231.75v1.6M155.05 231.75v1.6M17.6 231.75h-1.6M17.6 218.6h-1.6M17.6 205.44h-1.6M17.6 192.29h-1.6M17.6 179.13h-1.6" stroke="#000" stroke-width="0.5" fill="none"/>
<g font-family="DejaVu Sans, sans-serif" font-size="4.7" fill="#000" stroke="#000" stroke-width="0.15"><text x="23.06" y="238.75" text-anchor="middle">0</text><text x="49.46" y="238.75" text-anchor="middle">100,000</text><text x="75.86" y="238.75" text-anchor="middle">200,000</text><text x="102.26" y="238.75" text-anchor="middle">300,000</text><text x="128.66" y="238.75" text-anchor="middle">400,000</text><text x="155.05" y="238.75" text-anchor="middle">500,000</text><text x="14.1" y="234.05" text-anchor="end">0.00</text><text x="14.1" y="220.9" text-anchor="end">0.25</text><text x="14.1" y="207.74" text-anchor="end">0.50</text><text x="14.1" y="194.59" text-anchor="end">0.75</text><text x="14.1" y="181.43" text-anchor="end">1.00</text></g>
<text x="89.6" y="173.7" text-anchor="middle" font-family="DejaVu Sans, sans-serif" font-size="5.8" stroke="#000" stroke-width="0.15">F17</text>
<text x="5.1" y="173.4" font-family="DejaVu Sans, sans-serif" font-style="italic" font-size="4.7" stroke="#000" stroke-width="0.15">F/Cr</text>
<text x="164" y="247.05" font-family="DejaVu Sans, sans-serif" font-style="italic" font-size="4.7" stroke="#000" stroke-width="0.15">NFE</text>
<g stroke="#b0b0b0" stroke-width="0.55"><line x1="210.51" y1="176.5" x2="210.51" y2="231.75"/><line x1="236.91" y1="176.5" x2="236.91" y2="231.75"/><line x1="263.31" y1="176.5" x2="263.31" y2="231.75"/><line x1="289.71" y1="176.5" x2="289.71" y2="231.75"/><line x1="316.11" y1="176.5" x2="316.11" y2="231.75"/><line x1="342.5" y1="176.5" x2="342.5" y2="231.75"/><line x1="205.05" y1="231.75" x2="349.05" y2="231.75"/><line x1="205.05" y1="218.6" x2="349.05" y2="218.6"/><line x1="205.05" y1="205.44" x2="349.05" y2="205.44"/><line x1="205.05" y1="192.29" x2="349.05" y2="192.29"/><line x1="205.05" y1="179.13" x2="349.05" y2="179.13"/></g>
<path d="M210.73 221.37C215.09 221.18 228.13 220.77 236.91 220.22C245.7 219.68 254.91 219.18 263.43 218.09C271.94 217.01 282.23 214.86 288 213.71C293.77 212.56 295.26 211.89 298.06 211.19C300.85 210.5 302.52 210.13 304.76 209.52C306.99 208.9 309.93 207.93 311.46 207.51C313 207.09 313.14 206.95 313.98 207C314.81 207.06 315.51 207.48 316.49 207.84C317.47 208.2 318.86 208.85 319.84 209.18C320.82 209.52 321.52 209.94 322.36 209.85C323.19 209.77 323.89 209.35 324.87 208.68C325.85 208.01 327.24 206.58 328.22 205.83C329.2 205.08 329.84 204.6 330.74 204.15C331.63 203.71 332.89 203.93 333.58 203.15C334.28 202.37 334.42 201.19 334.92 199.46C335.43 197.73 335.9 194.3 336.6 192.76C337.3 191.22 338.14 190.86 339.11 190.25C340.09 189.63 341.91 189.27 342.47 189.07" fill="none" stroke="#800080" stroke-width="0.7" stroke-dasharray="3.3 1.5" stroke-linejoin="round"/>
<path d="M210.73 221.37C215.09 221.18 228.13 220.77 236.91 220.22C245.7 219.68 254.91 219.18 263.43 218.09C271.94 217.01 282.23 214.86 288 213.71C293.77 212.56 295.26 211.89 298.06 211.19C300.85 210.5 302.52 210.13 304.76 209.52C306.99 208.9 309.93 207.93 311.46 207.51C313 207.09 313.14 206.95 313.98 207C314.81 207.06 315.51 207.48 316.49 207.84C317.47 208.2 318.86 208.85 319.84 209.18C320.82 209.52 321.52 209.94 322.36 209.85C323.19 209.77 323.89 209.35 324.87 208.68C325.85 208.01 327.24 206.58 328.22 205.83C329.2 205.08 329.84 204.6 330.74 204.15C331.63 203.71 332.89 203.93 333.58 203.15C334.28 202.37 334.42 201.19 334.92 199.46C335.43 197.73 335.9 194.43 336.6 192.76C337.3 191.08 338.14 190.19 339.11 189.41C340.09 188.62 341.91 188.29 342.47 188.07" fill="none" stroke="#ff0000" stroke-width="0.8" stroke-dasharray="0.9 1.6" stroke-linejoin="round"/>
<path d="M210.73 221.37C215.09 221.34 228.13 221.31 236.91 221.2C245.7 221.1 254.91 220.93 263.43 220.71C271.94 220.5 282.23 220.15 288 219.91C293.77 219.66 295.26 219.49 298.06 219.24C300.85 218.99 302.25 218.71 304.76 218.4C307.27 218.09 310.35 217.76 313.14 217.39C315.93 217.03 319.28 216.7 321.52 216.22C323.75 215.75 325.01 215.1 326.55 214.55C328.08 213.99 329.56 213.29 330.74 212.87C331.91 212.45 332.75 212.87 333.58 212.03C334.42 211.19 334.98 209.38 335.76 207.84C336.54 206.31 337.44 204.49 338.28 202.81C339.11 201.14 340.09 199.32 340.79 197.79C341.49 196.25 342.19 194.3 342.47 193.6" fill="none" stroke="#32cd32" stroke-width="0.65" stroke-linejoin="round"/>
<path d="M210.73 221.37C215.09 221.31 228.13 221.18 236.91 221.04C245.7 220.9 254.91 220.85 263.43 220.55C271.94 220.25 282.23 219.82 288 219.24C293.77 218.66 295.26 217.7 298.06 217.06C300.85 216.42 302.52 216.03 304.76 215.38C306.99 214.74 309.23 213.9 311.46 213.2C313.7 212.51 315.93 211.86 318.17 211.19C320.4 210.52 322.91 209.88 324.87 209.18C326.82 208.48 328.5 207.73 329.9 207C331.29 206.28 332.41 205.8 333.25 204.83C334.09 203.85 334.37 202.87 334.92 201.14C335.48 199.41 336.04 196.53 336.6 194.43C337.16 192.34 337.58 190.38 338.28 188.57C338.97 186.75 340.09 184.74 340.79 183.54C341.49 182.34 342.19 181.73 342.47 181.36" fill="none" stroke="#0000ff" stroke-width="0.6" stroke-linejoin="round"/>
<rect x="205.05" y="176.5" width="144" height="55.25" fill="none" stroke="#000" stroke-width="0.75"/>
<path d="M210.51 231.75v1.6M236.91 231.75v1.6M263.31 231.75v1.6M289.71 231.75v1.6M316.11 231.75v1.6M342.5 231.75v1.6M205.05 231.75h-1.6M205.05 218.6h-1.6M205.05 205.44h-1.6M205.05 192.29h-1.6M205.05 179.13h-1.6" stroke="#000" stroke-width="0.5" fill="none"/>
<g font-family="DejaVu Sans, sans-serif" font-size="4.7" fill="#000" stroke="#000" stroke-width="0.15"><text x="210.51" y="238.75" text-anchor="middle">0</text><text x="236.91" y="238.75" text-anchor="middle">100,000</text><text x="263.31" y="238.75" text-anchor="middle">200,000</text><text x="289.71" y="238.75" text-anchor="middle">300,000</text><text x="316.11" y="238.75" text-anchor="middle">400,000</text><text x="342.5" y="238.75" text-anchor="middle">500,000</text><text x="201.55" y="234.05" text-anchor="end">0.00</text><text x="201.55" y="220.9" text-anchor="end">0.25</text><text x="201.55" y="207.74" text-anchor="end">0.50</text><text x="201.55" y="194.59" text-anchor="end">0.75</text><text x="201.55" y="181.43" text-anchor="end">1.00</text></g>
<text x="277.05" y="173.7" text-anchor="middle" font-family="DejaVu Sans, sans-serif" font-size="5.8" stroke="#000" stroke-width="0.15">F19</text>
<text x="192.55" y="173.4" font-family="DejaVu Sans, sans-serif" font-style="italic" font-size="4.7" stroke="#000" stroke-width="0.15">F/Cr</text>
<text x="351.45" y="247.05" font-family="DejaVu Sans, sans-serif" font-style="italic" font-size="4.7" stroke="#000" stroke-width="0.15">NFE</text>
<g stroke="#b0b0b0" stroke-width="0.55"><line x1="397.96" y1="176.5" x2="397.96" y2="231.75"/><line x1="424.36" y1="176.5" x2="424.36" y2="231.75"/><line x1="450.76" y1="176.5" x2="450.76" y2="231.75"/><line x1="477.16" y1="176.5" x2="477.16" y2="231.75"/><line x1="503.56" y1="176.5" x2="503.56" y2="231.75"/><line x1="529.95" y1="176.5" x2="529.95" y2="231.75"/><line x1="392.5" y1="231.75" x2="536.5" y2="231.75"/><line x1="392.5" y1="218.6" x2="536.5" y2="218.6"/><line x1="392.5" y1="205.44" x2="536.5" y2="205.44"/><line x1="392.5" y1="192.29" x2="536.5" y2="192.29"/><line x1="392.5" y1="179.13" x2="536.5" y2="179.13"/></g>
<path d="M398.22 221.37C402.64 221.12 415.9 220.5 424.73 219.9C433.57 219.3 442.7 218.66 451.25 217.77C459.79 216.88 470.2 215.22 476 214.55C481.8 213.87 482.7 214.04 486.06 213.71C489.41 213.37 493.18 212.9 496.11 212.53C499.04 212.17 502.12 211.61 503.65 211.53C505.19 211.44 504.35 211.39 505.33 212.03C506.31 212.67 507.98 214.27 509.52 215.38C511.05 216.5 512.87 217.7 514.55 218.74C516.22 219.77 518.04 220.75 519.57 221.58C521.11 222.42 522.87 223.26 523.76 223.76C524.66 224.27 524.57 224.74 524.94 224.6C525.3 224.46 525.63 224.88 525.94 222.92C526.25 220.97 526.44 216.78 526.78 212.87C527.11 208.96 527.48 203.15 527.95 199.46C528.43 195.78 529.35 192.2 529.63 190.75" fill="none" stroke="#800080" stroke-width="0.7" stroke-dasharray="3.3 1.5" stroke-linejoin="round"/>
<path d="M398.22 221.37C402.64 221.12 415.9 220.5 424.73 219.9C433.57 219.3 442.7 218.66 451.25 217.77C459.79 216.88 470.2 215.22 476 214.55C481.8 213.87 482.7 214.04 486.06 213.71C489.41 213.37 493.18 212.9 496.11 212.53C499.04 212.17 502.12 211.61 503.65 211.53C505.19 211.44 504.35 211.39 505.33 212.03C506.31 212.67 507.98 214.27 509.52 215.38C511.05 216.5 512.87 217.7 514.55 218.74C516.22 219.77 518.04 220.75 519.57 221.58C521.11 222.42 522.87 223.26 523.76 223.76C524.66 224.27 524.57 224.74 524.94 224.6C525.3 224.46 525.63 224.88 525.94 222.92C526.25 220.97 526.44 216.78 526.78 212.87C527.11 208.96 527.48 203.23 527.95 199.46C528.43 195.69 529.35 191.78 529.63 190.25" fill="none" stroke="#ff0000" stroke-width="0.8" stroke-dasharray="0.9 1.6" stroke-linejoin="round"/>
<path d="M398.22 221.37C402.64 221.29 415.9 221.04 424.73 220.88C433.57 220.71 442.7 220.46 451.25 220.39C459.79 220.31 470.2 220.57 476 220.41C481.8 220.25 482.7 219.77 486.06 219.41C489.41 219.04 493.18 218.57 496.11 218.23C499.04 217.9 501.42 217.65 503.65 217.39C505.89 217.14 507.14 216.95 509.52 216.72C511.89 216.5 515.16 216.22 517.9 216.05C520.63 215.89 524.41 216.39 525.94 215.72C527.48 215.05 526.64 213.62 527.11 212.03C527.59 210.44 528.32 207.7 528.79 206.17C529.27 204.63 529.77 203.37 529.96 202.81" fill="none" stroke="#32cd32" stroke-width="0.65" stroke-linejoin="round"/>
<path d="M398.22 221.37C402.64 221.29 415.9 221.04 424.73 220.88C433.57 220.71 442.7 220.55 451.25 220.39C459.79 220.22 470.2 220.16 476 219.91C481.8 219.66 482.7 219.27 486.06 218.9C489.41 218.54 493.18 218.06 496.11 217.73C499.04 217.39 501.42 217.14 503.65 216.89C505.89 216.64 507.14 216.42 509.52 216.22C511.89 216.03 515.16 215.86 517.9 215.72C520.63 215.58 524.41 216.14 525.94 215.38C527.48 214.63 526.64 213.01 527.11 211.19C527.59 209.38 528.32 206.31 528.79 204.49C529.27 202.67 529.77 201 529.96 200.3" fill="none" stroke="#0000ff" stroke-width="0.6" stroke-linejoin="round"/>
<rect x="392.5" y="176.5" width="144" height="55.25" fill="none" stroke="#000" stroke-width="0.75"/>
<path d="M397.96 231.75v1.6M424.36 231.75v1.6M450.76 231.75v1.6M477.16 231.75v1.6M503.56 231.75v1.6M529.95 231.75v1.6M392.5 231.75h-1.6M392.5 218.6h-1.6M392.5 205.44h-1.6M392.5 192.29h-1.6M392.5 179.13h-1.6" stroke="#000" stroke-width="0.5" fill="none"/>
<g font-family="DejaVu Sans, sans-serif" font-size="4.7" fill="#000" stroke="#000" stroke-width="0.15"><text x="397.96" y="238.75" text-anchor="middle">0</text><text x="424.36" y="238.75" text-anchor="middle">100,000</text><text x="450.76" y="238.75" text-anchor="middle">200,000</text><text x="477.16" y="238.75" text-anchor="middle">300,000</text><text x="503.56" y="238.75" text-anchor="middle">400,000</text><text x="529.95" y="238.75" text-anchor="middle">500,000</text><text x="389" y="234.05" text-anchor="end">0.00</text><text x="389" y="220.9" text-anchor="end">0.25</text><text x="389" y="207.74" text-anchor="end">0.50</text><text x="389" y="194.59" text-anchor="end">0.75</text><text x="389" y="181.43" text-anchor="end">1.00</text></g>
<text x="464.5" y="173.7" text-anchor="middle" font-family="DejaVu Sans, sans-serif" font-size="5.8" stroke="#000" stroke-width="0.15">F21</text>
<text x="380" y="173.4" font-family="DejaVu Sans, sans-serif" font-style="italic" font-size="4.7" stroke="#000" stroke-width="0.15">F/Cr</text>
<text x="538.9" y="247.05" font-family="DejaVu Sans, sans-serif" font-style="italic" font-size="4.7" stroke="#000" stroke-width="0.15">NFE</text>
<g stroke="#b0b0b0" stroke-width="0.55"><line x1="23.06" y1="259.4" x2="23.06" y2="314.65"/><line x1="49.46" y1="259.4" x2="49.46" y2="314.65"/><line x1="75.86" y1="259.4" x2="75.86" y2="314.65"/><line x1="102.26" y1="259.4" x2="102.26" y2="314.65"/><line x1="128.66" y1="259.4" x2="128.66" y2="314.65"/><line x1="155.05" y1="259.4" x2="155.05" y2="314.65"/><line x1="17.6" y1="314.65" x2="161.6" y2="314.65"/><line x1="17.6" y1="301.5" x2="161.6" y2="301.5"/><line x1="17.6" y1="288.34" x2="161.6" y2="288.34"/><line x1="17.6" y1="275.19" x2="161.6" y2="275.19"/><line x1="17.6" y1="262.03" x2="161.6" y2="262.03"/></g>
<path d="M23.22 304.04C27.64 303.82 40.9 303.3 49.73 302.73C58.57 302.16 67.7 301.52 76.25 300.6C84.79 299.68 95.76 298.06 101 297.21C106.24 296.37 105.39 296.18 107.7 295.53C110.02 294.89 112.87 294.14 114.91 293.36C116.95 292.57 118.54 291.68 119.94 290.84C121.33 290 122.31 289.03 123.29 288.33C124.27 287.63 124.97 287.07 125.8 286.65C126.64 286.23 127.34 286.23 128.32 285.81C129.29 285.4 130.55 284.7 131.67 284.14C132.79 283.58 133.9 282.94 135.02 282.46C136.14 281.99 137.25 281.65 138.37 281.29C139.49 280.93 140.75 280.48 141.72 280.28C142.7 280.09 142 280.14 144.24 280.12C146.47 280.09 153.32 280.12 155.13 280.12" fill="none" stroke="#800080" stroke-width="0.7" stroke-dasharray="3.3 1.5" stroke-linejoin="round"/>
<path d="M23.22 304.04C27.64 303.82 40.9 303.3 49.73 302.73C58.57 302.16 67.7 301.52 76.25 300.6C84.79 299.68 95.76 298.06 101 297.21C106.24 296.37 105.39 296.18 107.7 295.53C110.02 294.89 112.87 294.14 114.91 293.36C116.95 292.57 118.54 291.68 119.94 290.84C121.33 290 122.31 289.03 123.29 288.33C124.27 287.63 124.97 287.07 125.8 286.65C126.64 286.23 127.34 286.23 128.32 285.81C129.29 285.4 130.55 284.7 131.67 284.14C132.79 283.58 133.9 282.94 135.02 282.46C136.14 281.99 137.25 281.65 138.37 281.29C139.49 280.93 140.75 280.48 141.72 280.28C142.7 280.09 142 280.14 144.24 280.12C146.47 280.09 153.32 280.12 155.13 280.12" fill="none" stroke="#ff0000" stroke-width="0.8" stroke-dasharray="0.9 1.6" stroke-linejoin="round"/>
<path d="M23.22 304.04C27.64 303.96 40.9 303.71 49.73 303.55C58.57 303.39 67.7 303.28 76.25 303.06C84.79 302.84 95.76 302.46 101 302.24C106.24 302.02 105.39 301.96 107.7 301.74C110.02 301.51 112.31 301.23 114.91 300.9C117.51 300.56 120.78 300.14 123.29 299.72C125.8 299.31 127.76 298.97 129.99 298.38C132.23 297.8 135.02 296.82 136.7 296.2C138.37 295.59 139.07 295.17 140.05 294.7C141.03 294.22 140.05 293.58 142.56 293.36C145.08 293.13 153.04 293.36 155.13 293.36" fill="none" stroke="#32cd32" stroke-width="0.65" stroke-linejoin="round"/>
<path d="M23.22 304.04C27.64 303.96 40.9 303.71 49.73 303.55C58.57 303.39 67.7 303.36 76.25 303.06C84.79 302.76 95.76 302.1 101 301.74C106.24 301.37 105.39 301.32 107.7 300.9C110.02 300.48 112.59 299.78 114.91 299.22C117.23 298.66 119.38 298.1 121.61 297.55C123.85 296.99 126.36 296.57 128.32 295.87C130.27 295.17 131.81 294.33 133.34 293.36C134.88 292.38 136.42 291.12 137.53 290C138.65 288.89 139.21 287.63 140.05 286.65C140.89 285.67 141.72 284.72 142.56 284.14C143.4 283.55 142.98 283.33 145.08 283.13C147.17 282.94 153.46 282.99 155.13 282.97" fill="none" stroke="#0000ff" stroke-width="0.6" stroke-linejoin="round"/>
<rect x="17.6" y="259.4" width="144" height="55.25" fill="none" stroke="#000" stroke-width="0.75"/>
<path d="M23.06 314.65v1.6M49.46 314.65v1.6M75.86 314.65v1.6M102.26 314.65v1.6M128.66 314.65v1.6M155.05 314.65v1.6M17.6 314.65h-1.6M17.6 301.5h-1.6M17.6 288.34h-1.6M17.6 275.19h-1.6M17.6 262.03h-1.6" stroke="#000" stroke-width="0.5" fill="none"/>
<g font-family="DejaVu Sans, sans-serif" font-size="4.7" fill="#000" stroke="#000" stroke-width="0.15"><text x="23.06" y="321.65" text-anchor="middle">0</text><text x="49.46" y="321.65" text-anchor="middle">100,000</text><text x="75.86" y="321.65" text-anchor="middle">200,000</text><text x="102.26" y="321.65" text-anchor="middle">300,000</text><text x="128.66" y="321.65" text-anchor="middle">400,000</text><text x="155.05" y="321.65" text-anchor="middle">500,000</text><text x="14.1" y="316.95" text-anchor="end">0.00</text><text x="14.1" y="303.8" text-anchor="end">0.25</text><text x="14.1" y="290.64" text-anchor="end">0.50</text><text x="14.1" y="277.49" text-anchor="end">0.75</text><text x="14.1" y="264.33" text-anchor="end">1.00</text></g>
<text x="89.6" y="256.6" text-anchor="middle" font-family="DejaVu Sans, sans-serif" font-size="5.8" stroke="#000" stroke-width="0.15">F25</text>
<text x="5.1" y="256.3" font-family="DejaVu Sans, sans-serif" font-style="italic" font-size="4.7" stroke="#000" stroke-width="0.15">F/Cr</text>
<text x="164" y="329.95" font-family="DejaVu Sans, sans-serif" font-style="italic" font-size="4.7" stroke="#000" stroke-width="0.15">NFE</text>
<g stroke="#b0b0b0" stroke-width="0.55"><line x1="210.51" y1="259.4" x2="210.51" y2="314.65"/><line x1="236.91" y1="259.4" x2="236.91" y2="314.65"/><line x1="263.31" y1="259.4" x2="263.31" y2="314.65"/><line x1="289.71" y1="259.4" x2="289.71" y2="314.65"/><line x1="316.11" y1="259.4" x2="316.11" y2="314.65"/><line x1="342.5" y1="259.4" x2="342.5" y2="314.65"/><line x1="205.05" y1="314.65" x2="349.05" y2="314.65"/><line x1="205.05" y1="301.5" x2="349.05" y2="301.5"/><line x1="205.05" y1="288.34" x2="349.05" y2="288.34"/><line x1="205.05" y1="275.19" x2="349.05" y2="275.19"/><line x1="205.05" y1="262.03" x2="349.05" y2="262.03"/></g>
<path d="M210.73 304.04C215.09 303.8 228.13 303.25 236.91 302.57C245.7 301.89 254.91 300.93 263.43 299.95C271.94 298.97 282.23 297.47 288 296.71C293.77 295.94 294.7 295.79 298.06 295.37C301.41 294.95 305.18 294.61 308.11 294.19C311.04 293.77 314.12 292.99 315.65 292.85C317.19 292.71 316.35 292.8 317.33 293.36C318.31 293.91 319.98 295.23 321.52 296.2C323.05 297.18 324.87 298.3 326.55 299.22C328.22 300.14 330.18 301.04 331.57 301.74C332.97 302.43 334.14 303.13 334.92 303.41C335.71 303.69 335.9 305.23 336.27 303.41C336.63 301.6 336.77 296.57 337.1 292.52C337.44 288.47 337.8 282.18 338.28 279.11C338.75 276.04 339.39 275.26 339.95 274.08C340.51 272.91 341.21 272.63 341.63 272.07C342.05 271.51 342.33 270.95 342.47 270.73" fill="none" stroke="#800080" stroke-width="0.7" stroke-dasharray="3.3 1.5" stroke-linejoin="round"/>
<path d="M210.73 304.04C215.09 303.8 228.13 303.25 236.91 302.57C245.7 301.89 254.91 300.93 263.43 299.95C271.94 298.97 282.23 297.47 288 296.71C293.77 295.94 294.7 295.79 298.06 295.37C301.41 294.95 305.18 294.61 308.11 294.19C311.04 293.77 314.12 292.99 315.65 292.85C317.19 292.71 316.35 292.8 317.33 293.36C318.31 293.91 319.98 295.23 321.52 296.2C323.05 297.18 324.87 298.3 326.55 299.22C328.22 300.14 330.18 301.04 331.57 301.74C332.97 302.43 334.14 303.13 334.92 303.41C335.71 303.69 335.9 305.23 336.27 303.41C336.63 301.6 336.77 296.57 337.1 292.52C337.44 288.47 337.8 282.18 338.28 279.11C338.75 276.04 339.39 275.34 339.95 274.08C340.51 272.83 341.21 272.07 341.63 271.57C342.05 271.07 342.33 271.15 342.47 271.07" fill="none" stroke="#ff0000" stroke-width="0.8" stroke-dasharray="0.9 1.6" stroke-linejoin="round"/>
<path d="M210.73 304.04C215.09 303.96 228.13 303.71 236.91 303.55C245.7 303.39 254.91 303.22 263.43 303.06C271.94 302.9 282.23 302.79 288 302.57C293.77 302.35 294.7 302.07 298.06 301.74C301.41 301.4 305.18 300.87 308.11 300.56C311.04 300.25 313.42 300.06 315.65 299.89C317.89 299.72 319.42 299.67 321.52 299.56C323.61 299.44 326.13 299.19 328.22 299.22C330.32 299.25 332.83 299.53 334.09 299.72C335.34 299.92 335.26 301.04 335.76 300.39C336.27 299.75 336.54 298.02 337.1 295.87C337.66 293.72 338.22 290.42 339.11 287.49C340.01 284.56 341.91 279.81 342.47 278.27" fill="none" stroke="#32cd32" stroke-width="0.65" stroke-linejoin="round"/>
<path d="M210.73 304.04C215.09 303.96 228.13 303.71 236.91 303.55C245.7 303.39 254.91 303.28 263.43 303.06C271.94 302.84 282.23 302.54 288 302.24C293.77 301.93 294.7 301.57 298.06 301.23C301.41 300.9 305.18 300.51 308.11 300.23C311.04 299.95 313.42 299.72 315.65 299.56C317.89 299.39 319.42 299.33 321.52 299.22C323.61 299.11 326.13 298.89 328.22 298.89C330.32 298.89 332.89 299.03 334.09 299.22C335.29 299.42 335.01 301.18 335.43 300.06C335.85 298.94 336.13 295.73 336.6 292.52C337.08 289.31 337.72 283.72 338.28 280.79C338.84 277.85 339.25 276.74 339.95 274.92C340.65 273.11 342.05 270.73 342.47 269.89" fill="none" stroke="#0000ff" stroke-width="0.6" stroke-linejoin="round"/>
<rect x="205.05" y="259.4" width="144" height="55.25" fill="none" stroke="#000" stroke-width="0.75"/>
<path d="M210.51 314.65v1.6M236.91 314.65v1.6M263.31 314.65v1.6M289.71 314.65v1.6M316.11 314.65v1.6M342.5 314.65v1.6M205.05 314.65h-1.6M205.05 301.5h-1.6M205.05 288.34h-1.6M205.05 275.19h-1.6M205.05 262.03h-1.6" stroke="#000" stroke-width="0.5" fill="none"/>
<g font-family="DejaVu Sans, sans-serif" font-size="4.7" fill="#000" stroke="#000" stroke-width="0.15"><text x="210.51" y="321.65" text-anchor="middle">0</text><text x="236.91" y="321.65" text-anchor="middle">100,000</text><text x="263.31" y="321.65" text-anchor="middle">200,000</text><text x="289.71" y="321.65" text-anchor="middle">300,000</text><text x="316.11" y="321.65" text-anchor="middle">400,000</text><text x="342.5" y="321.65" text-anchor="middle">500,000</text><text x="201.55" y="316.95" text-anchor="end">0.00</text><text x="201.55" y="303.8" text-anchor="end">0.25</text><text x="201.55" y="290.64" text-anchor="end">0.50</text><text x="201.55" y="277.49" text-anchor="end">0.75</text><text x="201.55" y="264.33" text-anchor="end">1.00</text></g>
<text x="277.05" y="256.6" text-anchor="middle" font-family="DejaVu Sans, sans-serif" font-size="5.8" stroke="#000" stroke-width="0.15">F26</text>
<text x="192.55" y="256.3" font-family="DejaVu Sans, sans-serif" font-style="italic" font-size="4.7" stroke="#000" stroke-width="0.15">F/Cr</text>
<text x="351.45" y="329.95" font-family="DejaVu Sans, sans-serif" font-style="italic" font-size="4.7" stroke="#000" stroke-width="0.15">NFE</text>
<g stroke="#b0b0b0" stroke-width="0.55"><line x1="397.96" y1="259.4" x2="397.96" y2="314.65"/><line x1="424.36" y1="259.4" x2="424.36" y2="314.65"/><line x1="450.76" y1="259.4" x2="450.76" y2="314.65"/><line x1="477.16" y1="259.4" x2="477.16" y2="314.65"/><line x1="503.56" y1="259.4" x2="503.56" y2="314.65"/><line x1="529.95" y1="259.4" x2="529.95" y2="314.65"/><line x1="392.5" y1="314.65" x2="536.5" y2="314.65"/><line x1="392.5" y1="301.5" x2="536.5" y2="301.5"/><line x1="392.5" y1="288.34" x2="536.5" y2="288.34"/><line x1="392.5" y1="275.19" x2="536.5" y2="275.19"/><line x1="392.5" y1="262.03" x2="536.5" y2="262.03"/></g>
<path d="M398.22 304.04C402.64 303.82 415.9 303.36 424.73 302.73C433.57 302.1 442.7 301.28 451.25 300.28C459.79 299.27 470.2 297.78 476 296.71C481.8 295.64 483.26 294.64 486.06 293.86C488.85 293.08 490.78 292.63 492.76 292.01C494.74 291.4 496.53 290.65 497.95 290.17C499.38 289.7 500.19 289.11 501.31 289.17C502.42 289.22 503.54 290.17 504.66 290.51C505.77 290.84 506.89 290.93 508.01 291.18C509.13 291.43 510.24 291.99 511.36 292.01C512.48 292.04 513.74 291.82 514.71 291.34C515.69 290.87 516.39 290.23 517.23 289.17C518.06 288.1 518.9 286.79 519.74 284.98C520.58 283.16 521.42 279.95 522.25 278.27C523.09 276.6 523.93 275.62 524.77 274.92C525.61 274.22 526.44 274.25 527.28 274.08C528.12 273.92 529.38 273.94 529.8 273.92" fill="none" stroke="#800080" stroke-width="0.7" stroke-dasharray="3.3 1.5" stroke-linejoin="round"/>
<path d="M398.22 304.04C402.64 303.82 415.9 303.36 424.73 302.73C433.57 302.1 442.7 301.28 451.25 300.28C459.79 299.27 470.2 297.78 476 296.71C481.8 295.64 483.26 294.64 486.06 293.86C488.85 293.08 490.78 292.63 492.76 292.01C494.74 291.4 496.53 290.65 497.95 290.17C499.38 289.7 500.19 289.11 501.31 289.17C502.42 289.22 503.54 290.17 504.66 290.51C505.77 290.84 506.89 290.93 508.01 291.18C509.13 291.43 510.24 291.99 511.36 292.01C512.48 292.04 513.74 291.82 514.71 291.34C515.69 290.87 516.39 290.23 517.23 289.17C518.06 288.1 518.9 286.79 519.74 284.98C520.58 283.16 521.42 279.95 522.25 278.27C523.09 276.6 523.93 275.65 524.77 274.92C525.61 274.19 526.58 274.17 527.28 273.92C527.98 273.66 528.54 273.47 528.96 273.41C529.38 273.36 529.66 273.55 529.8 273.58" fill="none" stroke="#ff0000" stroke-width="0.8" stroke-dasharray="0.9 1.6" stroke-linejoin="round"/>
<path d="M398.22 304.04C402.64 303.99 415.9 303.85 424.73 303.71C433.57 303.58 442.7 303.47 451.25 303.22C459.79 302.98 470.2 302.51 476 302.24C481.8 301.96 483.26 301.74 486.06 301.57C488.85 301.4 490.78 301.34 492.76 301.23C494.74 301.12 495.69 301.23 497.95 300.9C500.22 300.56 503.54 299.72 506.33 299.22C509.13 298.72 512.76 298.38 514.71 297.88C516.67 297.38 516.95 297.1 518.06 296.2C519.18 295.31 520.3 293.83 521.42 292.52C522.53 291.2 523.79 289.72 524.77 288.33C525.75 286.93 526.44 286.37 527.28 284.14C528.12 281.9 529.38 276.46 529.8 274.92" fill="none" stroke="#32cd32" stroke-width="0.65" stroke-linejoin="round"/>
<path d="M398.22 304.04C402.64 303.96 415.9 303.74 424.73 303.55C433.57 303.36 442.7 303.2 451.25 302.9C459.79 302.59 470.2 302.21 476 301.74C481.8 301.26 483.26 300.56 486.06 300.06C488.85 299.56 490.78 299.14 492.76 298.72C494.74 298.3 495.97 298.02 497.95 297.55C499.94 297.07 502.42 296.43 504.66 295.87C506.89 295.31 509.69 294.61 511.36 294.19C513.04 293.77 513.74 293.77 514.71 293.36C515.69 292.94 516.39 292.52 517.23 291.68C518.06 290.84 519.04 289.72 519.74 288.33C520.44 286.93 520.86 285.12 521.42 283.3C521.98 281.48 522.53 279.25 523.09 277.43C523.65 275.62 524.07 274.08 524.77 272.41C525.47 270.73 526.44 268.78 527.28 267.38C528.12 265.98 529.38 264.59 529.8 264.03" fill="none" stroke="#0000ff" stroke-width="0.6" stroke-linejoin="round"/>
<rect x="392.5" y="259.4" width="144" height="55.25" fill="none" stroke="#000" stroke-width="0.75"/>
<path d="M397.96 314.65v1.6M424.36 314.65v1.6M450.76 314.65v1.6M477.16 314.65v1.6M503.56 314.65v1.6M529.95 314.65v1.6M392.5 314.65h-1.6M392.5 301.5h-1.6M392.5 288.34h-1.6M392.5 275.19h-1.6M392.5 262.03h-1.6" stroke="#000" stroke-width="0.5" fill="none"/>
<g font-family="DejaVu Sans, sans-serif" font-size="4.7" fill="#000" stroke="#000" stroke-width="0.15"><text x="397.96" y="321.65" text-anchor="middle">0</text><text x="424.36" y="321.65" text-anchor="middle">100,000</text><text x="450.76" y="321.65" text-anchor="middle">200,000</text><text x="477.16" y="321.65" text-anchor="middle">300,000</text><text x="503.56" y="321.65" text-anchor="middle">400,000</text><text x="529.95" y="321.65" text-anchor="middle">500,000</text><text x="389" y="316.95" text-anchor="end">0.00</text><text x="389" y="303.8" text-anchor="end">0.25</text><text x="389" y="290.64" text-anchor="end">0.50</text><text x="389" y="277.49" text-anchor="end">0.75</text><text x="389" y="264.33" text-anchor="end">1.00</text></g>
<text x="464.5" y="256.6" text-anchor="middle" font-family="DejaVu Sans, sans-serif" font-size="5.8" stroke="#000" stroke-width="0.15">F30</text>
<text x="380" y="256.3" font-family="DejaVu Sans, sans-serif" font-style="italic" font-size="4.7" stroke="#000" stroke-width="0.15">F/Cr</text>
<text x="538.9" y="329.95" font-family="DejaVu Sans, sans-serif" font-style="italic" font-size="4.7" stroke="#000" stroke-width="0.15">NFE</text>
</svg>
</body></html>
